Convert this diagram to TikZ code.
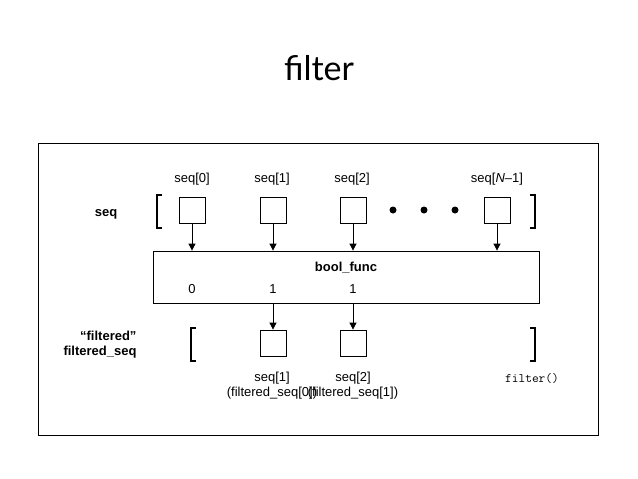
\documentclass[tikz,border=0pt]{standalone}
\usepackage{fontspec}
\setmainfont{Liberation Sans}
\newfontfamily\titlefont{Lato}
\usetikzlibrary{arrows.meta}
\begin{document}
\begin{tikzpicture}[x=1pt,y=-1pt,
  cell/.style={draw,minimum size=26pt,inner sep=0pt,line width=0.8pt},
  lbl/.style={font=\fontsize{13}{15}\selectfont,inner sep=0pt},
  blbl/.style={font=\bfseries\fontsize{13}{15}\selectfont,inner sep=0pt},
  arr/.style={-{Triangle[length=7pt,width=7pt]},line width=0.8pt},
  brk/.style={line width=2.2pt}]
\useasboundingbox (0,0) rectangle (638,479);
\node[font=\titlefont\fontsize{34}{38}\selectfont] (title) at (319,68) {filter};
\draw[line width=0.9pt] (38,143) rectangle (598,435);
\node[blbl] (seqlbl) at (106,214) {seq};
\node[cell] (i0) at (192,210) {};
\node[cell] (i1) at (273,210) {};
\node[cell] (i2) at (353,210) {};
\node[cell] (iN) at (497,210) {};
\node[lbl] (t0) at (192,179) {seq[0]};
\node[lbl] (t1) at (272,179) {seq[1]};
\node[lbl] (t2) at (352,179) {seq[2]};
\node[lbl] (tN) at (497,179) {seq[\textit{N}–1]};
\foreach \x in {393,424,455} \fill (\x,210) circle (3.5pt);
\draw[brk] (162,195) -- (157,195) -- (157,228) -- (162,228);
\draw[brk] (530,195) -- (535,195) -- (535,228) -- (530,228);
\node[draw,line width=0.8pt,minimum width=386pt,minimum height=52pt,inner sep=0pt] (bf) at (346,277) {};
\node[blbl] (bft) at (346,268) {bool\_func};
\node[lbl] (d0) at (192,289) {0};
\node[lbl] (d1) at (273,289) {1};
\node[lbl] (d2) at (353,289) {1};
\draw[arr] (i0.south) -- (i0.south |- bf.north);
\draw[arr] (i1.south) -- (i1.south |- bf.north);
\draw[arr] (i2.south) -- (i2.south |- bf.north);
\draw[arr] (iN.south) -- (iN.south |- bf.north);
\node[cell] (o1) at (273,343) {};
\node[cell] (o2) at (353,343) {};
\draw[arr] (o1 |- bf.south) -- (o1.north);
\draw[arr] (o2 |- bf.south) -- (o2.north);
\draw[brk] (196,328) -- (191,328) -- (191,361) -- (196,361);
\draw[brk] (530,328) -- (535,328) -- (535,361) -- (530,361);
\node[blbl,align=right] (flbl) at (100,345) {“filtered”\\filtered\_seq};
\node[lbl,align=center] (ol1) at (272,386) {seq[1]\\(filtered\_seq[0])};
\node[lbl,align=center] (ol2) at (353,386) {seq[2]\\(filtered\_seq[1])};
\node[lbl,font=\ttfamily\fontsize{13}{15}\selectfont] (fn) at (532,379) {filter()};
\end{tikzpicture}
\end{document}
